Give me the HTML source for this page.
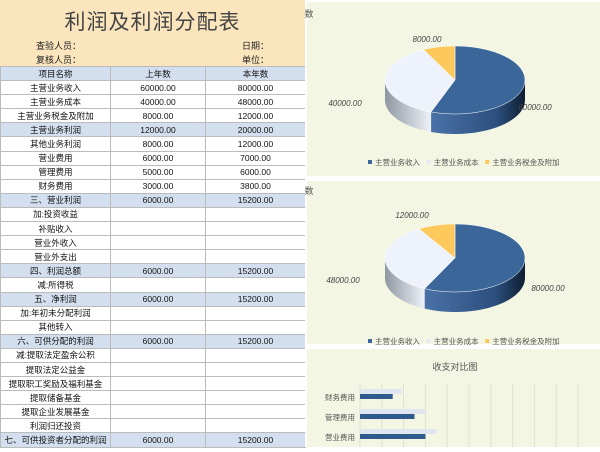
<!DOCTYPE html>
<html><head><meta charset="utf-8">
<style>
body{margin:0;width:600px;height:447px;overflow:hidden;background:#fff;font-family:"Liberation Sans","Noto Sans CJK SC",sans-serif;position:relative}
#left{position:absolute;left:0;top:0;width:305px;height:447px}
#hdr{position:absolute;left:0;top:0;width:305px;height:66px;background:#fbe5bd}
#title{position:absolute;left:0;top:6px;width:305px;text-align:center;font-size:21px;color:#444;letter-spacing:1px}
.meta{position:absolute;font-size:9px;color:#222}
table{position:absolute;left:0;top:66px;border-collapse:collapse;width:305px;table-layout:fixed}
td{height:13.1px;border:1px solid #bbb;font-size:8.5px;text-align:center;padding:0;line-height:12px;color:#111;white-space:nowrap;overflow:hidden}
tr.b td{background:#d3dfee}
#right{position:absolute;left:305px;top:0;width:295px;height:447px;background:#fff}
.panel{position:absolute;left:2px;width:293px;background:#f2f6e2}
</style></head><body>
<div id="left">
<div id="hdr">
<div id="title">利润及利润分配表</div>
<div class="meta" style="left:36px;top:39px">查验人员：</div>
<div class="meta" style="left:36px;top:53px">复核人员：</div>
<div class="meta" style="left:242px;top:39px">日期：</div>
<div class="meta" style="left:242px;top:53px">单位：</div>
</div>
<table>
<colgroup><col style="width:110px"><col style="width:95px"><col style="width:100px"></colgroup>
<tbody id="tb"></tbody></table>
</div>
<div id="right">
<svg id="svg" width="295" height="447"></svg>
</div>
<script>
const rowNames=["项目名称","主营业务收入","主营业务成本","主营业务税金及附加","主营业务利润","其他业务利润","营业费用","管理费用","财务费用","三、营业利润","加:投资收益","补贴收入","营业外收入","营业外支出","四、利润总额","减:所得税","五、净利润","加:年初未分配利润","其他转入","六、可供分配的利润","减:提取法定盈余公积","提取法定公益金","提取职工奖励及福利基金","提取储备基金","提取企业发展基金","利润归还投资","七、可供投资者分配的利润"];
const prevVals=["上年数","60000.00","40000.00","8000.00","12000.00","8000.00","6000.00","5000.00","3000.00","6000.00","","","","","6000.00","","6000.00","","","6000.00","","","","","","","6000.00"];
const curVals=["本年数","80000.00","48000.00","12000.00","20000.00","12000.00","7000.00","6000.00","3800.00","15200.00","","","","","15200.00","","15200.00","","","15200.00","","","","","","","15200.00"];
const boldRows=[0,4,9,14,16,19,26];
const tb=document.getElementById('tb');
rowNames.forEach((n,i)=>{const tr=document.createElement('tr');


if(boldRows.includes(i))tr.className='b';
[n,prevVals[i],curVals[i]].forEach(v=>{const td=document.createElement('td');td.textContent=v;


tr.appendChild(td);});tb.appendChild(tr);});

const NS='http://www.w3.org/2000/svg';
const svg=document.getElementById('svg');
function mk(t,a,p){const e=document.createElementNS(NS,t);for(const k in a)e.setAttribute(k,a[k]);(p||svg).appendChild(e);return e;}
svg.innerHTML='<defs><linearGradient id="gb" x1="0" x2="1"><stop offset="0" stop-color="#4a72a8"/><stop offset="0.7" stop-color="#2c4f7e"/><stop offset="1" stop-color="#0f1e33"/></linearGradient><linearGradient id="gl" x1="0" x2="1"><stop offset="0" stop-color="#9097a2"/><stop offset="1" stop-color="#eef2f8"/></linearGradient></defs>';

const legendNames=["主营业务收入","主营业务成本","主营业务税金及附加"];
const pie1Vals=[60000,40000,8000];
const pie2Vals=[80000,48000,12000];
const pieColors=["#3a6699","#edf2fb","#fdc85c"];
const sideFills=["url(#gb)","url(#gl)","#d9a63a"];

function panel(y,h,name){const r=mk('rect',{x:2,y:y,width:293,height:h,fill:'#f2f6e2'});}
function pie(vals,cx,cy,rx,ry,d,title,ty,labelPos,legY,nm){
 const t=mk('text',{x:cx-305+305-305+150,y:ty,'text-anchor':'middle','font-size':9,fill:'#555'});t.textContent=title;
 
 const tot=vals.reduce((a,b)=>a+b,0);
 const P=(a,yo)=>[cx+rx*Math.sin(a),cy-ry*Math.cos(a)+(yo||0)];
 let a0=0;const segs=vals.map(v=>{const a1=a0+v/tot*2*Math.PI;const s=[a0,a1];a0=a1;return s;});
 // sides
 segs.forEach((s,i)=>{const lo=Math.max(s[0],Math.PI/2),hi=Math.min(s[1],1.5*Math.PI);if(hi<=lo)return;
  let dd='M'+P(lo);for(let k=1;k<=30;k++){dd+=' L'+P(lo+(hi-lo)*k/30);}
  for(let k=30;k>=0;k--){dd+=' L'+P(lo+(hi-lo)*k/30,d);}
  const e=mk('path',{d:dd+'Z',fill:sideFills[i]});});
 segs.forEach((s,i)=>{let dd='M'+cx+','+cy;const n=40;for(let k=0;k<=n;k++)dd+=' L'+P(s[0]+(s[1]-s[0])*k/n);
  const e=mk('path',{d:dd+'Z',fill:pieColors[i],stroke:'#fff','stroke-width':0.5});
  });
 vals.forEach((v,i)=>{const l=mk('text',{x:labelPos[i][0],y:labelPos[i][1],'font-size':8,'font-style':'italic',fill:'#444','text-anchor':'middle'});l.textContent=v.toFixed(2);
  });
 let lx=63;legendNames.forEach((n,i)=>{const r=mk('rect',{x:lx,y:legY-5,width:4,height:4,fill:pieColors[i]==='#edf2fb'?'#e4ebf6':pieColors[i]});
  const tx=mk('text',{x:lx+7,y:legY,'font-size':7.5,fill:'#555'});tx.textContent=n;
  
  
  lx+=7+n.length*7.6+6;});
}
panel(2,174,'chart-panel-prev');
panel(181,163,'chart-panel-curr');
panel(349,98,'chart-panel-compare');
pie(pie1Vals,150,80,70,34,20,'上年数',17,[[230,110],[40,106],[122,42]],165,'pie-prev');
pie(pie2Vals,150,258,70,34,20,'本年数',194,[[243,291],[38,283],[107,218]],344,'pie-curr');

// bar chart
const barCats=["财务费用","管理费用","营业费用"];
const barPrev=[3000,5000,6000];
const barCurr=[3800,6000,7000];
const x0=55,pxPer=0.0109,catY0=397,catStep=20;
const xs=v=>x0+v*pxPer;
const bt=mk('text',{x:150,y:370,'text-anchor':'middle','font-size':9,fill:'#555'});bt.textContent='收支对比图';

for(let g=0;g<=20000;g+=2000){const l=mk('line',{x1:xs(g),x2:xs(g),y1:383,y2:447,stroke:'#dde2d0','stroke-width':1});}
barCats.forEach((c,i)=>{const y=catY0+i*catStep;
 const t=mk('text',{x:x0-5,y:y+3,'text-anchor':'end','font-size':7.5,fill:'#555'});t.textContent=c;
 
 const b1=mk('rect',{x:x0,y:y-8,width:xs(barCurr[i])-x0,height:5,fill:'#dfe6f2'});
 
 const b2=mk('rect',{x:x0,y:y-3,width:xs(barPrev[i])-x0,height:5,fill:'#2f5a8e'});
 });
</script>
</body></html>
